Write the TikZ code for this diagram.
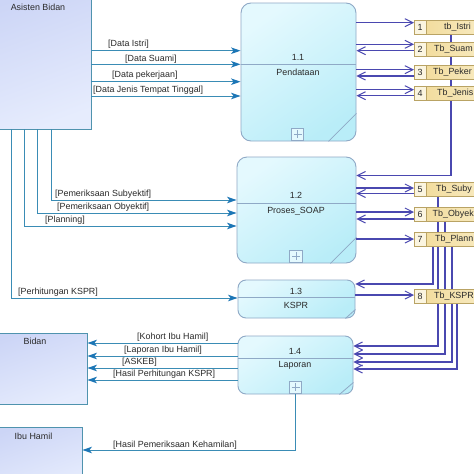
\documentclass[tikz,border=0pt]{standalone}
\usepackage{fontspec}
\setmainfont{Liberation Sans}
\usetikzlibrary{arrows.meta,calc}
\definecolor{flowL}{HTML}{3A8CB5}
\definecolor{tipL}{HTML}{1C76B6}
\definecolor{flowR}{HTML}{4A48B0}
\definecolor{entB}{HTML}{4F93AE}
\definecolor{entF1}{HTML}{CCD5F6}
\definecolor{entF2}{HTML}{E6ECFD}
\definecolor{procB}{HTML}{8FA9C6}
\definecolor{procF1}{HTML}{E4F9FE}
\definecolor{procF2}{HTML}{B9EDF8}
\definecolor{storeB}{HTML}{B9A364}
\definecolor{storeF1}{HTML}{F1DA98}
\definecolor{storeF2}{HTML}{FCF4D8}
\definecolor{numF}{HTML}{FBF5E0}
\definecolor{txt}{HTML}{2A2A2A}
\begin{document}
\begin{tikzpicture}[x=1pt,y=-1pt,
  font=\fontsize{8.9}{10}\selectfont, text=txt,
  ent/.style={draw=entB, line width=0.9pt, top color=entF1, bottom color=entF2, shading angle=20, inner sep=0},
  proc/.style={draw=procB, line width=0.9pt, rounded corners=10pt, top color=procF1, bottom color=procF2, shading angle=35, inner sep=0},
  procline/.style={draw=procB, line width=0.8pt},
  plusbox/.style={draw=procB, line width=0.8pt, fill=procF1, minimum size=12.5pt, inner sep=0},
  store/.style={draw=storeB, line width=0.8pt, left color=storeF1, right color=storeF2, minimum height=14pt, minimum width=110pt, inner sep=0, anchor=west},
  numcell/.style={draw=storeB, line width=0.8pt, fill=numF, minimum height=14pt, minimum width=11.5pt, inner sep=0, anchor=west},
  lbl/.style={inner sep=0, anchor=west},
  ttl/.style={inner sep=0},
  fl/.style={draw=flowL, line width=1pt, -{Stealth[length=9.5pt,width=6.5pt,inset=2.5pt,color=tipL]}},
  fr/.style={draw=flowR, line width=1.1pt, -{Straight Barb[length=8pt,width=8pt,line width=1pt]}}
]
\clip (0,0) rectangle (474,474);
\fill[white] (0,0) rectangle (474,474);

% entities
\node[ent, minimum width=108pt, minimum height=139pt] (ab) at (37,59.5) {};
\node[ttl] (abt) at (38,7) {Asisten Bidan};
\node[ent, minimum width=104pt, minimum height=71pt] (bd) at (35,368.5) {};
\node[ttl] (bdt) at (35,341) {Bidan};
\node[ent, minimum width=97pt, minimum height=63pt] (ih) at (33.5,458.5) {};
\node[ttl] (iht) at (33.5,436) {Ibu Hamil};

% processes
\node[proc, minimum width=115pt, minimum height=138pt] (p11) at (298.5,72) {};
\node[proc, minimum width=119pt, minimum height=106pt] (p12) at (296.5,210) {};
\node[proc, rounded corners=8pt, minimum width=117pt, minimum height=38pt] (p13) at (296.5,299) {};
\node[proc, rounded corners=8pt, minimum width=115pt, minimum height=58pt] (p14) at (295.5,365) {};

\draw[procline] (p11.west |- 0,64) -- (p11.east |- 0,64);
\draw[procline] (p12.west |- 0,203) -- (p12.east |- 0,203);
\draw[procline] (p13.west |- 0,297) -- (p13.east |- 0,297);
\draw[procline] (p14.west |- 0,358) -- (p14.east |- 0,358);

\draw[procline] ($(p11.south east)+(-28,0)$) -- ($(p11.south east)+(0,-28)$);
\draw[procline] ($(p12.south east)+(-26,0)$) -- ($(p12.south east)+(0,-26)$);
\draw[procline] ($(p13.south east)+(-10,0)$) -- ($(p13.south east)+(0,-9)$);
\draw[procline] ($(p14.south east)+(-14,0)$) -- ($(p14.south east)+(0,-12)$);

\node[ttl] (p11n) at (298,57) {1.1};
\node[ttl] (p11t) at (298,72) {Pendataan};
\node[ttl] (p12n) at (296,195) {1.2};
\node[ttl] (p12t) at (296,211) {Proses\_SOAP};
\node[ttl] (p13n) at (296,291) {1.3};
\node[ttl] (p13t) at (296,305) {KSPR};
\node[ttl] (p14n) at (295,351) {1.4};
\node[ttl] (p14t) at (295,365) {Laporan};

\node[plusbox, anchor=south] (pl1) at (297.5,141) {};
\node[plusbox, anchor=south] (pl2) at (296,263) {};
\node[plusbox, anchor=south] (pl4) at (295.5,394) {};
\foreach \b in {pl1,pl2,pl4}{
  \draw[procB, line width=0.7pt] ($(\b.center)+(-4,0)$) -- ($(\b.center)+(4,0)$);
  \draw[procB, line width=0.7pt] ($(\b.center)+(0,-4)$) -- ($(\b.center)+(0,4)$);
}

% right-side vertical connectors (drawn before stores so stores cover them)
\coordinate (c1) at (451,34);
\coordinate (c5) at (438,196);
\coordinate (c6) at (445,221);
\coordinate (c7a) at (433,245);
\coordinate (c7b) at (452,245);
\coordinate (c8) at (457,303);
\draw[fr] (c1) |- (p12.east |- 0,175.5);
\draw[fr] (c5) |- (p14.east |- 0,346);
\draw[fr] (c6) |- (p14.east |- 0,354);
\draw[fr] (c7b) |- (p14.east |- 0,362);
\draw[fr] (c8) |- (p14.east |- 0,369);
\draw[fr] (c7a) |- (p13.east |- 0,284);

% data stores
\foreach \n/\y/\nm/\tx in {1/27/tb\_Istri/444, 2/49/Tb\_Suam/434, 3/72/Tb\_Peker/433, 4/93/Tb\_Jenis/437,
                          5/189.5/Tb\_Suby/436, 6/214/Tb\_Obyek/432.5, 7/239/Tb\_Plann/435, 8/296.5/Tb\_KSPR/434}{
  \node[store] (s\n) at (414,\y) {};
  \node[numcell] (k\n) at (414,\y) {};
  \node[ttl] (kn\n) at (k\n.center) {\n};
  \node[lbl] (st\n) at (\tx,\y) {\nm};
}

% flows between processes and stores
\draw[fr] (p11.east |- 0,22.7) -- (s1.west |- 0,22.7);
\draw[fr] (p11.east |- 0,44.3) -- (s2.west |- 0,44.3);
\draw[fr] (s2.west |- 0,50.7) -- (p11.east |- 0,50.7);
\draw[fr] (p11.east |- 0,69.7) -- (s3.west |- 0,69.7);
\draw[fr] (s3.west |- 0,76) -- (p11.east |- 0,76);
\draw[fr] (p11.east |- 0,89.7) -- (s4.west |- 0,89.7);
\draw[fr] (s4.west |- 0,95.7) -- (p11.east |- 0,95.7);

\draw[fr] (p12.east |- 0,188) -- (s5.west |- 0,188);
\draw[fr] (s5.west |- 0,193.5) -- (p12.east |- 0,193.5);
\draw[fr] (p12.east |- 0,212) -- (s6.west |- 0,212);
\draw[fr] (s6.west |- 0,219) -- (p12.east |- 0,219);
\draw[fr] (p12.east |- 0,239) -- (s7.west |- 0,239);

\draw[fr] (p13.east |- 0,295) -- (s8.west |- 0,295);

% Asisten Bidan -> 1.1
\draw[fl] (ab.east |- 0,50.7) -- (p11.west |- 0,50.7);
\draw[fl] (ab.east |- 0,64.3) -- (p11.west |- 0,64.3);
\draw[fl] (ab.east |- 0,81.7) -- (p11.west |- 0,81.7);
\draw[fl] (ab.east |- 0,96) -- (p11.west |- 0,96);
\node[lbl] (l1) at (108,44) {[Data Istri]};
\node[lbl] (l2) at (125,59.5) {[Data Suami]};
\node[lbl] (l3) at (112,75.5) {[Data pekerjaan]};
\node[lbl] (l4) at (93,90) {[Data Jenis Tempat Tinggal]};

% Asisten Bidan -> 1.2 / 1.3
\draw[fl] (ab.south -| 51,0) |- (p12.west |- 0,200);
\draw[fl] (ab.south -| 37,0) |- (p12.west |- 0,213);
\draw[fl] (ab.south -| 24,0) |- (p12.west |- 0,226);
\draw[fl] (ab.south -| 11,0) |- (p13.west |- 0,298);
\node[lbl] (l5) at (55,194) {[Pemeriksaan Subyektif]};
\node[lbl] (l6) at (57,207) {[Pemeriksaan Obyektif]};
\node[lbl] (l7) at (45,220) {[Planning]};
\node[lbl] (l8) at (18,292.5) {[Perhitungan KSPR]};

% 1.4 -> Bidan
\draw[fl] (p14.west |- 0,343) -- (bd.east |- 0,343);
\draw[fl] (p14.west |- 0,356) -- (bd.east |- 0,356);
\draw[fl] (p14.west |- 0,368) -- (bd.east |- 0,368);
\draw[fl] (p14.west |- 0,380) -- (bd.east |- 0,380);
\node[lbl] (l9) at (137,337.5) {[Kohort Ibu Hamil]};
\node[lbl] (l10) at (124,350.5) {[Laporan Ibu Hamil]};
\node[lbl] (l11) at (122,362.5) {[ASKEB]};
\node[lbl] (l12) at (113,374) {[Hasil Perhitungan KSPR]};

% 1.4 -> Ibu Hamil
\draw[fl] (pl4.south) |- (ih.east |- 0,450);
\node[lbl] (l13) at (113,445.5) {[Hasil Pemeriksaan Kehamilan]};
\end{tikzpicture}
\end{document}
